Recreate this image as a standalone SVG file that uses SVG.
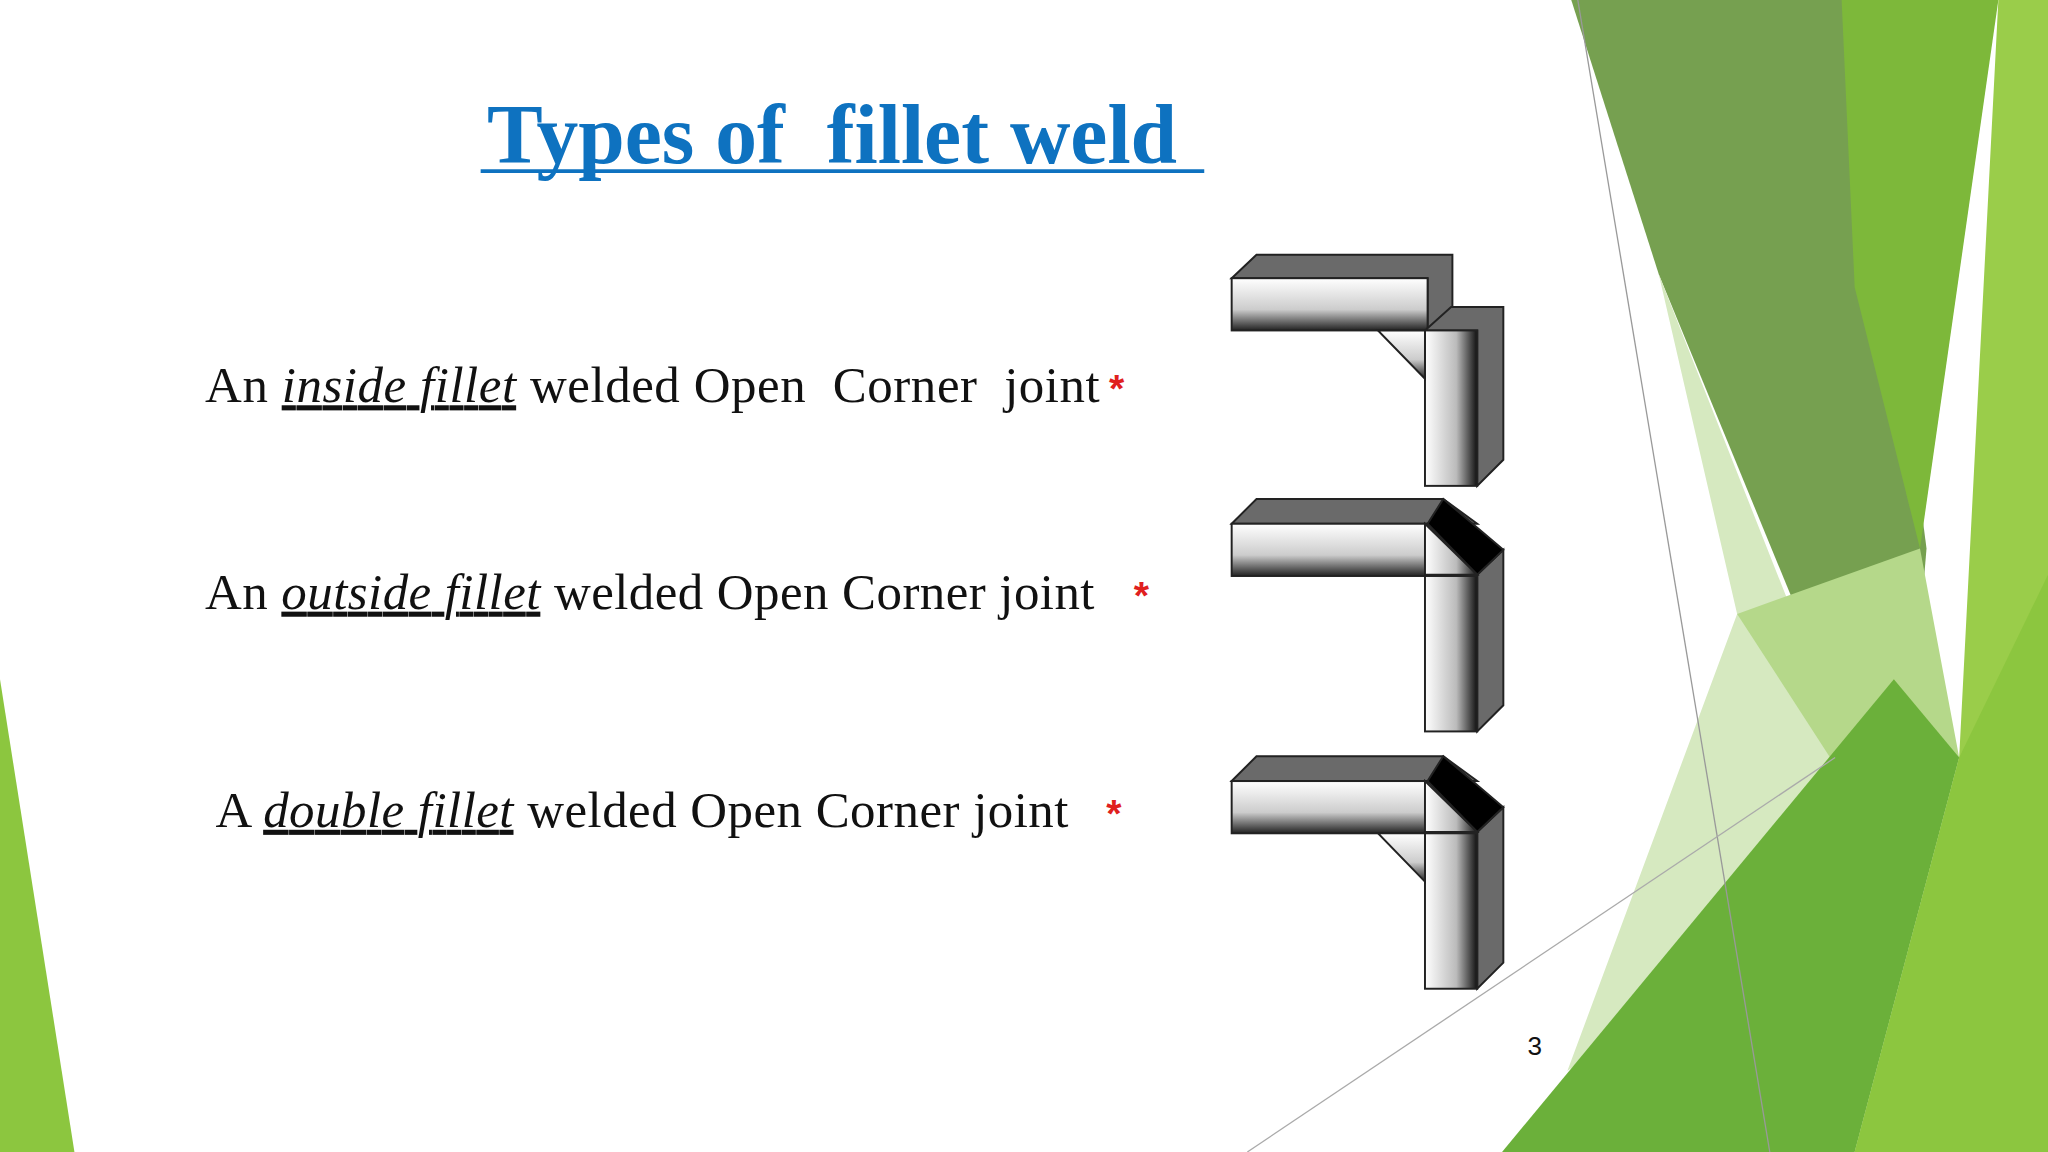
<svg xmlns="http://www.w3.org/2000/svg" width="2048" height="1152" viewBox="0 0 2048 1152">
<defs>
<linearGradient id="gh" x1="0" y1="0" x2="0" y2="1"><stop offset="0" stop-color="#fff"/><stop offset="0.6" stop-color="#ccc"/><stop offset="1" stop-color="#222"/></linearGradient>
<linearGradient id="gv" x1="0" y1="0" x2="1" y2="0"><stop offset="0" stop-color="#fff"/><stop offset="0.6" stop-color="#bbb"/><stop offset="1" stop-color="#111"/></linearGradient>
<style>
.t{font-family:"Liberation Serif",serif;font-size:39px;fill:#111}
.a{font-family:"Liberation Sans",sans-serif;font-size:30px;fill:#e0201e;font-weight:bold}
.e{stroke:#222;stroke-width:1.5}
</style>
</defs>
<rect width="2048" height="1152" fill="#fff"/>
<g transform="scale(1.30612)">
<g id="bg">
<polygon points="0,520 0,882 57,882" fill="#8cc63f"/>
<polygon points="1203,0 1420,0 1475,420 1455,660 1270,210" fill="#76a050"/>
<polygon points="1410,0 1530,0 1470,420 1420,220" fill="#7db83a"/>
<polygon points="1530,0 1568,0 1568,882 1420,882 1500,580" fill="#9acd4a"/>
<polygon points="1270,210 1440,640 1200,820 1330,470" fill="#d6e9c0"/>
<polygon points="1330,470 1440,640 1500,580 1470,420" fill="#b5d88a"/>
<polygon points="1150,882 1450,520 1500,580 1420,882" fill="#6bb03a"/>
<polygon points="1420,882 1500,580 1568,440 1568,882" fill="#8cc63f"/>
<line x1="1208" y1="0" x2="1355" y2="882" stroke="#999" stroke-width="1"/>
<line x1="955" y1="882" x2="1405" y2="580" stroke="#aaa" stroke-width="1"/>
</g>
<g id="title">
<text x="645" y="125" text-anchor="middle" font-family="Liberation Serif,serif" font-weight="bold" font-size="64" fill="#0e72c0" xml:space="preserve">Types of  fillet weld </text>
<line x1="368" y1="131" x2="922" y2="131" stroke="#0e72c0" stroke-width="3"/>
</g>
<g id="row1">
<text class="t" x="157" y="308" textLength="685" lengthAdjust="spacing" xml:space="preserve">An <tspan font-style="italic" text-decoration="underline">inside fillet</tspan> welded Open  Corner  joint</text>
<text class="a" x="849" y="308">*</text>
<polygon class="e" points="943,213 962,195 1112,195 1112,235 1093,253 1093,213" fill="#6a6a6a"/>
<rect class="e" x="943" y="213" width="150" height="40" fill="url(#gh)"/>
<polygon class="e" points="1091,253 1111,235 1151,235 1151,352 1131,372 1131,253" fill="#6a6a6a"/>
<rect class="e" x="1091" y="253" width="40" height="119" fill="url(#gv)"/>
<polygon class="e" points="1055,253 1091,253 1091,290" fill="url(#gh)"/>
</g>
<g id="row2">
<text class="t" x="157" y="466" textLength="681" lengthAdjust="spacing" xml:space="preserve">An <tspan font-style="italic" text-decoration="underline">outside fillet</tspan> welded Open Corner joint</text>
<text class="a" x="868" y="466">*</text>
<polygon class="e" points="943,401 962,382 1105,382 1131,401 1093,401" fill="#6a6a6a"/>
<rect class="e" x="943" y="401" width="150" height="40" fill="url(#gh)"/>
<polygon class="e" points="1131,440 1151,421 1151,540 1131,560" fill="#6a6a6a"/>
<rect class="e" x="1091" y="441" width="40" height="119" fill="url(#gv)"/>
<polygon class="e" points="1093,401 1105,382 1151,421 1131,440" fill="#000"/>
<polygon class="e" points="1091,401 1131,440 1091,440" fill="url(#gv)"/>
</g>
<g id="row3">
<text class="t" x="165" y="633" textLength="653" lengthAdjust="spacing" xml:space="preserve">A <tspan font-style="italic" text-decoration="underline">double fillet</tspan> welded Open Corner joint</text>
<text class="a" x="847" y="633">*</text>
<polygon class="e" points="943,598 962,579 1105,579 1131,598 1093,598" fill="#6a6a6a"/>
<rect class="e" x="943" y="598" width="150" height="40" fill="url(#gh)"/>
<polygon class="e" points="1131,637 1151,618 1151,737 1131,757" fill="#6a6a6a"/>
<rect class="e" x="1091" y="638" width="40" height="119" fill="url(#gv)"/>
<polygon class="e" points="1093,598 1105,579 1151,618 1131,637" fill="#000"/>
<polygon class="e" points="1091,598 1131,637 1091,637" fill="url(#gv)"/>
<polygon class="e" points="1055,638 1091,638 1091,675" fill="url(#gh)"/>
</g>
<text x="1175" y="808" text-anchor="middle" font-family="Liberation Sans,sans-serif" font-size="20" fill="#111">3</text>
</g>
</svg>
